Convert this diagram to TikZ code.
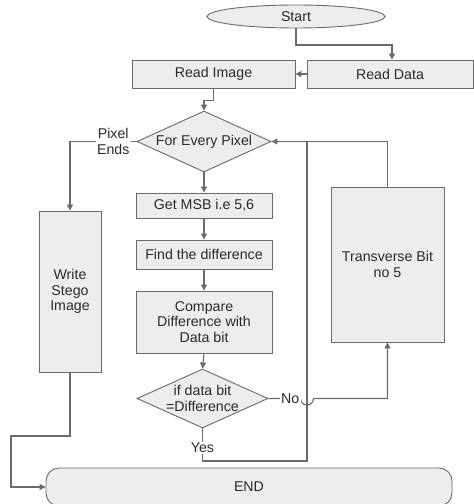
\documentclass[tikz,border=0pt]{standalone}
\usepackage{fontspec}
\setmainfont{Liberation Sans}
\usetikzlibrary{shapes.geometric,arrows.meta}
\definecolor{linegray}{HTML}{6A6A6A}
\definecolor{boxgray}{HTML}{EDEDED}
\definecolor{textcol}{HTML}{2A2A2A}
\tikzset{
  every node/.style={font=\fontsize{14.2}{15.6}\selectfont, text=textcol, align=center, inner sep=0pt},
  stepbox/.style={draw=linegray, fill=boxgray, line width=0.9pt, rectangle},
  decide/.style={draw=linegray, fill=boxgray, line width=0.9pt, diamond, shape aspect=2.2},
  terminal/.style={draw=linegray, fill=boxgray, line width=0.9pt},
  conn/.style={draw=linegray, line width=1.1pt},
  arr/.style={conn, -{Triangle[length=6pt,width=6pt]}},
  lbl/.style={fill=white, inner sep=1.5pt},
}
\begin{document}
\begin{tikzpicture}[x=1pt,y=-1pt]
\useasboundingbox (0,0) rectangle (474,504);
\clip (0,0) rectangle (474,504);
\fill[white] (0,0) rectangle (474,504);

% nodes
\node[terminal, ellipse, minimum width=178pt, minimum height=23pt] (start) at (296,16.5) {Start};
\node[stepbox, minimum width=163pt, minimum height=28pt] (readimg) at (213.5,74) {Read Image};
\node[stepbox, minimum width=166pt, minimum height=28pt] (readdata) at (390,74) {Read Data};
\node[decide, minimum width=134pt, minimum height=61pt, label={[align=center]center:For Every Pixel}] (d1) at (204,141.5) {};
\node[stepbox, minimum width=136pt, minimum height=25pt] (msb) at (204,205.5) {Get MSB i.e 5,6};
\node[stepbox, minimum width=136pt, minimum height=29pt] (find) at (204,254.5) {Find the difference};
\node[stepbox, minimum width=136pt, minimum height=62pt] (comp) at (204,322) {Compare\\Difference with\\Data bit};
\node[decide, minimum width=131pt, minimum height=59pt, label={[align=center]center:if data bit\\=Difference}] (d2) at (202.5,398.5) {};
\node[stepbox, minimum width=62pt, minimum height=161pt] (write) at (70,291.5) {Write\\Stego\\Image};
\node[stepbox, minimum width=113pt, minimum height=155pt] (trans) at (387.5,264.5) {Transverse Bit\\no 5};
\node[terminal, rectangle, rounded corners=13pt, minimum width=406pt, minimum height=38pt] (endn) at (249,487) {END};

% coordinates
\coordinate (j1) at (392,45);
\coordinate (yc) at (202.5,461);
\coordinate (lc) at (307,461);
\coordinate (h1) at (300.5,398.5);
\coordinate (w1) at (11,436);

% connectors
\draw[arr] (start.south) |- (j1) -- (j1 |- readdata.north);
\draw[arr] (readdata.west) -- (readimg.east);
\draw[arr] (readimg.south) -- ++(0,12) -| (d1.north);
\draw[arr] (d1.west) -- node[lbl, pos=0.35]{Pixel\\Ends} (write.north |- d1.west) -- (write.north);
\draw[arr] (d1.south) -- (msb.north);
\draw[arr] (msb.south) -- (find.north);
\draw[arr] (find.south) -- (comp.north);
\draw[arr] (comp.south) -- (d2.north);
\draw[arr] (d2.south) -- node[lbl, pos=0.6]{Yes} (yc) -- (lc) -- (lc |- d1.east) -- (d1.east);
\draw[conn] (trans.north) |- (lc |- d1.east);
\draw[arr] (d2.east) -- node[lbl, pos=0.68]{No} (h1) arc[start angle=180, end angle=360, radius=6.5pt] -- (trans.south |- d2.east) -- (trans.south);
\draw[arr] (write.south) |- (w1) |- (endn.west);
\end{tikzpicture}
\end{document}
